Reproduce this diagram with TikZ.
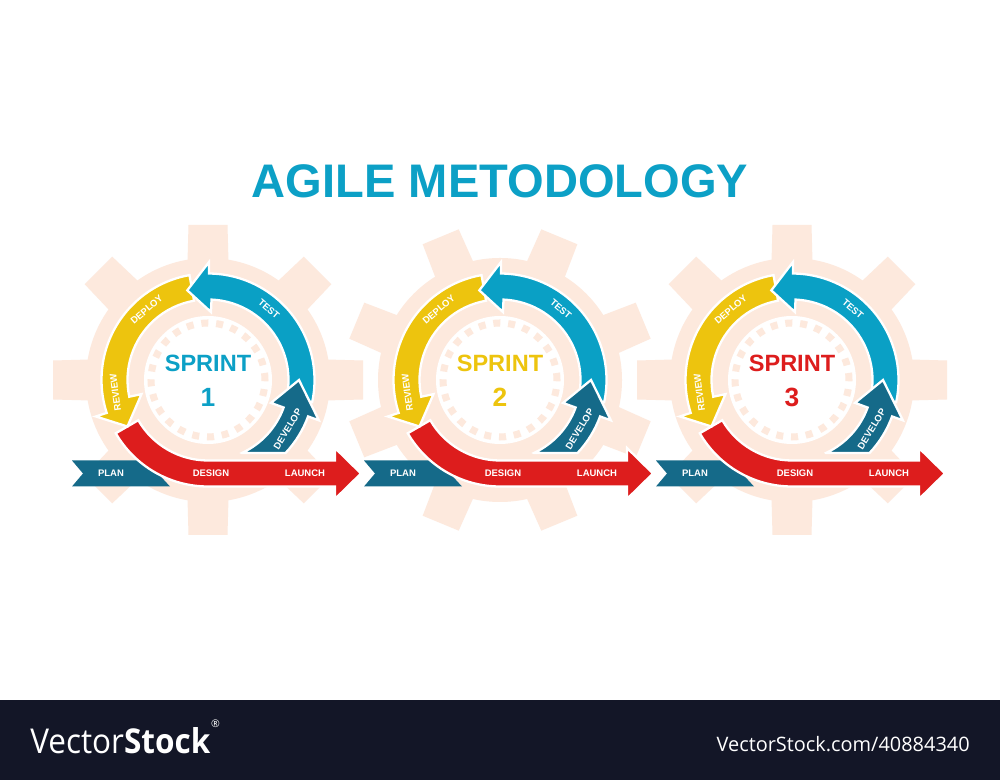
\documentclass[tikz,border=0pt]{standalone}
\usepackage{fontspec}
\setmainfont{Liberation Sans}
\newfontfamily\osans{Open Sans}
\usepackage{graphicx}
\definecolor{titleblue}{RGB}{12,160,198}
\definecolor{testblue}{RGB}{10,160,197}
\definecolor{ayellow}{RGB}{237,196,14}
\definecolor{ared}{RGB}{221,29,29}
\definecolor{adark}{RGB}{21,106,137}
\definecolor{peach}{RGB}{253,233,221}
\definecolor{banner}{RGB}{19,22,39}
\tikzset{
  gearfill/.style={fill=peach},
  arrowshape/.style={draw=white, line width=1.3pt, line join=miter},
  lbl/.style={text=white, inner sep=0pt, font=\bfseries\fontsize{5.4}{6}\selectfont},
  sprinttxt/.style={inner sep=0pt, anchor=base, font=\bfseries\fontsize{13.4}{15}\selectfont},
  numtxt/.style={inner sep=0pt, anchor=base, font=\bfseries\fontsize{15}{17}\selectfont},
}
\begin{document}
\begin{tikzpicture}[x=0.02cm,y=0.02cm]
\useasboundingbox (0,0) rectangle (1000,780);
\fill[white] (0,0) rectangle (1000,780);
% title
\node[anchor=base, inner sep=0pt, text=titleblue, font=\bfseries\fontsize{26.8}{30}\selectfont] (title) at (500,582) {AGILE METODOLOGY};
% gear bodies
\foreach \cx/\rot in {208/0, 500/22.5, 792/0} {
  \begin{scope}[shift={(\cx,400)}]
    \fill[gearfill] (0,0) circle[radius=122];
    \foreach \a in {0,45,...,315} {
      \fill[gearfill, rotate=\a+\rot] (-21,100) -- (21,100) -- (19.5,155) -- (-19.5,155) -- cycle;
    }
  \end{scope}
}
% sprint contents
\foreach \i/\cx/\col in {1/208/titleblue, 2/500/ayellow, 3/792/ared} {
  \begin{scope}[shift={(\cx,400)}]
    \fill[white] (0,0) circle[radius=64];
    \draw[peach, line width=4pt, dash pattern=on 4pt off 4.46pt] (0,0) circle[radius=57];
    % plan
    \fill[adark] (-136,-80.5) -- (-125,-93.5) -- (-136,-106.5) -- (-38,-106.5) -- (-62,-80.5) -- cycle;
    % red design/launch
    \fill[ared, arrowshape] (210:106.5) arc[start angle=210, end angle=270, radius=106.5]
      -- (127,-106.5) -- (127,-119) -- (153,-93.5) -- (127,-68) -- (127,-80.5) -- (0,-80.5)
      arc[start angle=270, end angle=210, radius=80.5] -- cycle;
    % yellow deploy/review
    \fill[ayellow, arrowshape] (100:106.5) arc[start angle=100, end angle=198, radius=106.5]
      -- (198:118) -- (210:93) -- (192:68) -- (192:80.5)
      arc[start angle=192, end angle=100, radius=80.5] -- cycle;
    % blue test
    \fill[testblue, arrowshape] (-12:106.5) arc[start angle=-12, end angle=89.5, radius=106.5]
      -- (89.5:118) -- (103:92) -- (87.5:68) -- (87.5:80.5)
      arc[start angle=87.5, end angle=-12, radius=80.5] -- cycle;
    % dark develop
    \fill[adark, arrowshape] (-65.1:80.5) -- (-43.3:106.5) arc[start angle=-43.3, end angle=-20, radius=106.5]
      -- (-20:118) -- (0:91) -- (-20:67) -- (-20:80.5)
      arc[start angle=-20, end angle=-65.1, radius=80.5] -- cycle;
    % labels
    \node[lbl, rotate=-40.6] (test\i) at (49.4:93.5) {TEST};
    \node[lbl, rotate=41] (deploy\i) at (131:93.5) {DEPLOY};
    \node[lbl, rotate=97.7] (review\i) at (187.7:93.5) {REVIEW};
    \node[lbl, rotate=58.4] (develop\i) at (-31.6:93.5) {DEVELOP};
    \node[lbl] (plan\i) at (-97,-93.5) {PLAN};
    \node[lbl] (design\i) at (3,-93.5) {DESIGN};
    \node[lbl] (launch\i) at (97,-93.5) {LAUNCH};
    \node[sprinttxt, text=\col] (sprint\i) at (0,8) {SPRINT};
    \node[numtxt, text=\col] (num\i) at (0,-27) {\i};
  \end{scope}
}
% banner
\fill[banner] (0,0) rectangle (1000,80);
\node[anchor=base west, inner sep=0pt, text=white] (logo) at (30,26) {\resizebox{3.6cm}{0.52cm}{\osans Vector\bfseries Stock}};
\node[anchor=south west, inner sep=0pt, text=white, font=\osans\fontsize{6}{7}\selectfont] (reg) at (logo.north east) {®};
\node[anchor=base east, inner sep=0pt, text=white] (url) at (970,28) {\resizebox{5.06cm}{!}{\osans VectorStock.com/40884340}};
\end{tikzpicture}
\end{document}
